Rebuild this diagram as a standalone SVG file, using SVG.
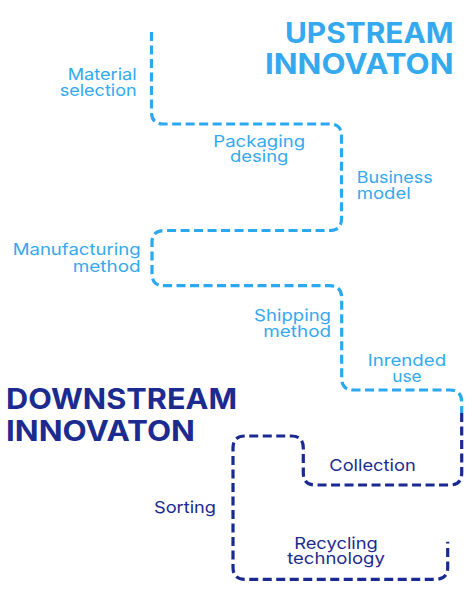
<svg xmlns="http://www.w3.org/2000/svg" width="474" height="593" viewBox="0 0 474 593">
<style>
.lt{font-family:Inter,"Open Sans","Liberation Sans",sans-serif;font-size:16.5px;font-weight:400}
.up{fill:#35a9ee}
.dn{fill:#1c2b8f}
.ti{font-family:Inter,"Open Sans","Liberation Sans",sans-serif;font-size:28px;font-weight:700}
.p{fill:none;stroke-width:3.2;stroke-dasharray:9 4.5;stroke-linecap:butt}
</style>
<rect width="474" height="593" fill="#ffffff"/>
<g id="connectors">
<path class="p" stroke="#2aa8f0" d="M151.5,32 V112 Q151.5,124 163.5,124 H329.5 Q341.5,124 341.5,136 V218.5 Q341.5,230.5 329.5,230.5 H164 Q152,230.5 152,242.5 V273.7 Q152,285.7 164,285.7 H329.7 Q341.7,285.7 341.7,297.7 V378 Q341.7,390 353.7,390 H449.7 Q461.7,390 461.7,402 V413"/>
<path class="p" stroke="#1a2a92" d="M461.7,413 V473 Q461.7,485 449.7,485 H315.3 Q303.3,485 303.3,473 V448 Q303.3,436 291.3,436 H245 Q233,436 233,448 V567.3 Q233,579.3 245,579.3 H435.7 Q447.7,579.3 447.7,567.3 V541.7"/>
</g>
<g id="title-upstream">
<text class="ti up" x="453.5" y="42.7" text-anchor="end" textLength="168.5" lengthAdjust="spacingAndGlyphs">UPSTREAM</text>
<text class="ti up" x="453.5" y="74" text-anchor="end" textLength="188.5" lengthAdjust="spacingAndGlyphs">INNOVATON</text>
</g>
<g id="title-downstream">
<text class="ti dn" x="6" y="409" textLength="231" lengthAdjust="spacingAndGlyphs">DOWNSTREAM</text>
<text class="ti dn" x="6" y="440.5" textLength="189" lengthAdjust="spacingAndGlyphs">INNOVATON</text>
</g>
<g id="material-selection">
<text class="lt up" x="136.7" y="80" text-anchor="end" textLength="69" lengthAdjust="spacingAndGlyphs">Material</text>
<text class="lt up" x="136.7" y="96" text-anchor="end" textLength="77" lengthAdjust="spacingAndGlyphs">selection</text>
</g>
<g id="packaging-design">
<text class="lt up" x="259.2" y="146.7" text-anchor="middle" textLength="91.7" lengthAdjust="spacingAndGlyphs">Packaging</text>
<text class="lt up" x="259.2" y="162.3" text-anchor="middle" textLength="58.3" lengthAdjust="spacingAndGlyphs">desing</text>
</g>
<g id="business-model">
<text class="lt up" x="356.7" y="182.7" textLength="76" lengthAdjust="spacingAndGlyphs">Business</text>
<text class="lt up" x="356.7" y="199" textLength="54" lengthAdjust="spacingAndGlyphs">model</text>
</g>
<g id="manufacturing-method">
<text class="lt up" x="140.7" y="255.3" text-anchor="end" textLength="128" lengthAdjust="spacingAndGlyphs">Manufacturing</text>
<text class="lt up" x="140.7" y="271.7" text-anchor="end" textLength="68" lengthAdjust="spacingAndGlyphs">method</text>
</g>
<g id="shipping-method">
<text class="lt up" x="331" y="320.7" text-anchor="end" textLength="77" lengthAdjust="spacingAndGlyphs">Shipping</text>
<text class="lt up" x="331" y="337.3" text-anchor="end" textLength="67.7" lengthAdjust="spacingAndGlyphs">method</text>
</g>
<g id="intended-use">
<text class="lt up" x="406.9" y="366" text-anchor="middle" textLength="78.3" lengthAdjust="spacingAndGlyphs">Inrended</text>
<text class="lt up" x="406.9" y="382" text-anchor="middle" textLength="29.4" lengthAdjust="spacingAndGlyphs">use</text>
</g>
<g id="collection">
<text class="lt dn" x="329.3" y="470.7" textLength="86.4" lengthAdjust="spacingAndGlyphs">Collection</text>
</g>
<g id="sorting">
<text class="lt dn" x="216" y="513.3" text-anchor="end" textLength="62" lengthAdjust="spacingAndGlyphs">Sorting</text>
</g>
<g id="recycling-technology">
<text class="lt dn" x="336" y="549" text-anchor="middle" textLength="83.7" lengthAdjust="spacingAndGlyphs">Recycling</text>
<text class="lt dn" x="336" y="564.3" text-anchor="middle" textLength="97.7" lengthAdjust="spacingAndGlyphs">technology</text>
</g>
</svg>
